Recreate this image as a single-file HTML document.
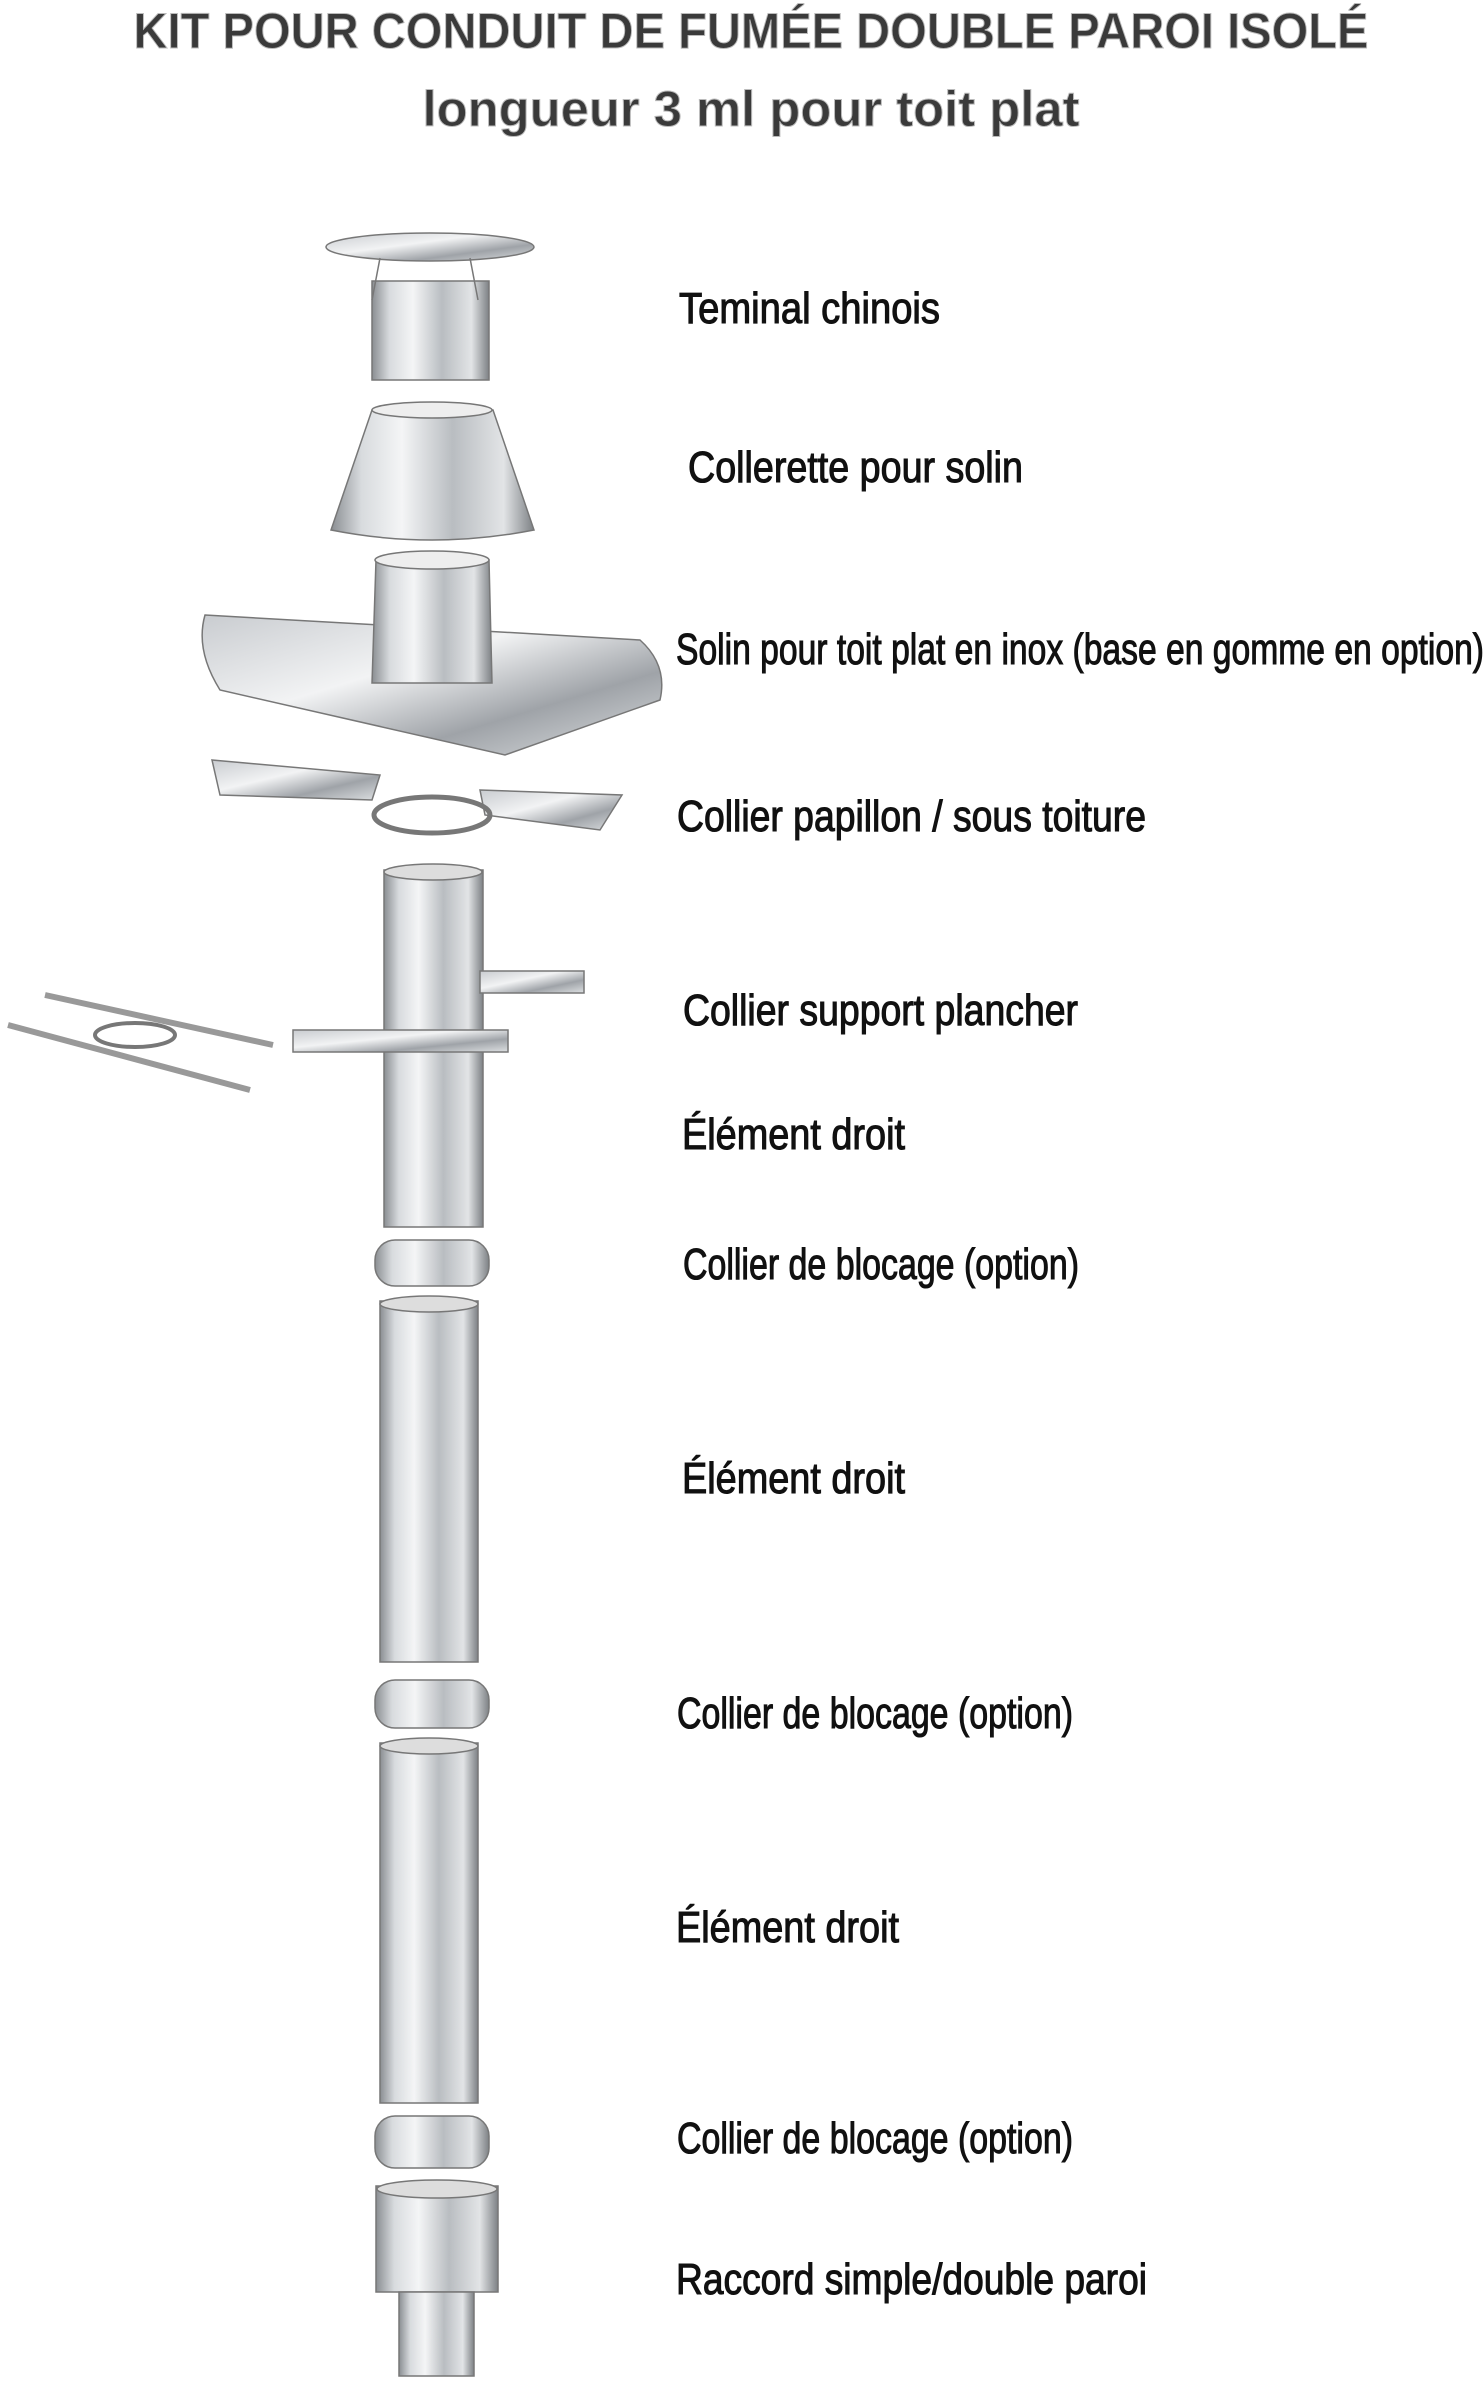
<!DOCTYPE html>
<html><head><meta charset="utf-8"><style>
html,body{margin:0;padding:0;background:#fff;}
svg{display:block;}
</style></head><body>
<svg width="1483" height="2381" viewBox="0 0 1483 2381" xmlns="http://www.w3.org/2000/svg">
<defs>
<linearGradient id="m" x1="0" x2="1" y1="0" y2="0">
<stop offset="0" stop-color="#8a8e92"/><stop offset="0.15" stop-color="#d8dbde"/><stop offset="0.35" stop-color="#f4f5f6"/><stop offset="0.6" stop-color="#b9bdc1"/><stop offset="0.85" stop-color="#e2e4e6"/><stop offset="1" stop-color="#7d8185"/>
</linearGradient>
<linearGradient id="p" x1="0" x2="1" y1="0" y2="1">
<stop offset="0" stop-color="#c9ccd0"/><stop offset="0.4" stop-color="#f2f3f4"/><stop offset="0.7" stop-color="#9fa3a8"/><stop offset="1" stop-color="#dcdfe1"/>
</linearGradient>
</defs>
<g font-family="'Liberation Sans Narrow','Liberation Sans',sans-serif" font-weight="bold" fill="#3a3a3a" stroke="#bbb" stroke-width="1">
<text x="751" y="48" font-size="50" text-anchor="middle" textLength="1235" lengthAdjust="spacingAndGlyphs">KIT POUR CONDUIT DE FUMÉE DOUBLE PAROI ISOLÉ</text>
<text x="751" y="126" font-size="50" text-anchor="middle" textLength="657" lengthAdjust="spacingAndGlyphs">longueur 3 ml pour toit plat</text>
</g>
<g font-family="'Liberation Sans Narrow','Liberation Sans',sans-serif" font-size="44" fill="#111" stroke="#111" stroke-width="1.1">
<text x="679" y="323" textLength="261" lengthAdjust="spacingAndGlyphs">Teminal chinois</text>
<text x="688" y="482" textLength="335" lengthAdjust="spacingAndGlyphs">Collerette pour solin</text>
<text x="676" y="664" textLength="808" lengthAdjust="spacingAndGlyphs">Solin pour toit plat en inox (base en gomme en option)</text>
<text x="677" y="831" textLength="469" lengthAdjust="spacingAndGlyphs">Collier papillon / sous toiture</text>
<text x="683" y="1025" textLength="395" lengthAdjust="spacingAndGlyphs">Collier support plancher</text>
<text x="682" y="1149" textLength="223" lengthAdjust="spacingAndGlyphs">Élément droit</text>
<text x="683" y="1279" textLength="396" lengthAdjust="spacingAndGlyphs">Collier de blocage (option)</text>
<text x="682" y="1493" textLength="223" lengthAdjust="spacingAndGlyphs">Élément droit</text>
<text x="677" y="1728" textLength="396" lengthAdjust="spacingAndGlyphs">Collier de blocage (option)</text>
<text x="676" y="1942" textLength="223" lengthAdjust="spacingAndGlyphs">Élément droit</text>
<text x="677" y="2153" textLength="396" lengthAdjust="spacingAndGlyphs">Collier de blocage (option)</text>
<text x="676" y="2294" textLength="471" lengthAdjust="spacingAndGlyphs">Raccord simple/double paroi</text>
</g>
<g stroke="#777" stroke-width="1.5">
<rect x="372" y="281" width="117" height="99" fill="url(#m)"/>
<ellipse cx="430" cy="247" rx="104" ry="14" fill="url(#p)"/>
<line x1="380" y1="258" x2="372" y2="300"/><line x1="470" y1="258" x2="478" y2="300"/>
<path d="M372 410 L493 410 L534 530 Q432 550 331 530 Z" fill="url(#m)"/>
<ellipse cx="432" cy="410" rx="60" ry="8" fill="#eee"/>
<path d="M205 615 L640 640 Q668 665 660 700 L505 755 L220 690 Q195 650 205 615 Z" fill="url(#p)"/>
<path d="M376 560 L489 560 L492 683 L372 683 Z" fill="url(#m)"/>
<ellipse cx="432" cy="560" rx="57" ry="9" fill="#eee"/>
<path d="M212 760 L380 775 L372 800 L220 795 Z" fill="url(#p)"/>
<path d="M480 790 L622 795 L600 830 L485 815 Z" fill="url(#p)"/>
<ellipse cx="432" cy="815" rx="58" ry="18" fill="none" stroke-width="5"/>
<rect x="384" y="870" width="99" height="357" fill="url(#m)"/>
<ellipse cx="433" cy="872" rx="49" ry="8" fill="#ddd"/>
<rect x="480" y="971" width="104" height="22" fill="url(#p)"/>
<rect x="293" y="1030" width="215" height="22" fill="url(#p)"/>
<line x1="45" y1="995" x2="273" y2="1045" stroke-width="6" stroke="#999"/>
<line x1="8" y1="1025" x2="250" y2="1090" stroke-width="6" stroke="#999"/>
<ellipse cx="135" cy="1035" rx="40" ry="12" fill="none" stroke-width="4"/>
<rect x="375" y="1240" width="114" height="46" rx="20" fill="url(#m)"/>
<rect x="380" y="1301" width="98" height="361" fill="url(#m)"/>
<ellipse cx="429" cy="1304" rx="49" ry="8" fill="#ddd"/>
<rect x="375" y="1680" width="114" height="48" rx="20" fill="url(#m)"/>
<rect x="380" y="1743" width="98" height="360" fill="url(#m)"/>
<ellipse cx="429" cy="1746" rx="49" ry="8" fill="#ddd"/>
<rect x="375" y="2116" width="114" height="52" rx="20" fill="url(#m)"/>
<rect x="376" y="2186" width="122" height="106" fill="url(#m)"/>
<ellipse cx="437" cy="2189" rx="60" ry="9" fill="#ddd"/>
<rect x="399" y="2292" width="75" height="84" fill="url(#m)"/>
</g>
</svg>
</body></html>
